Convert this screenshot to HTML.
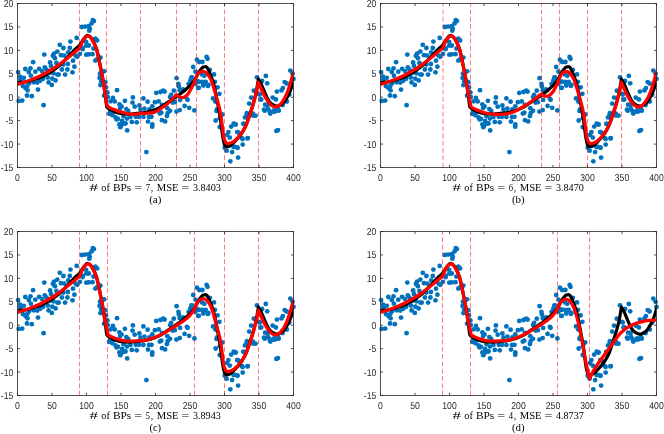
<!DOCTYPE html><html><head><meta charset="utf-8"><style>html,body{margin:0;padding:0;background:#fff;width:664px;height:434px;overflow:hidden}svg{display:block}</style></head><body><svg width="664" height="434" viewBox="0 0 664 434">
<rect width="664" height="434" fill="#fff"/>
<defs><g id="d" fill="#0072bd"><circle cx="27" cy="95.5" r="2.4"/><circle cx="31.8" cy="96.2" r="2.4"/><circle cx="18.7" cy="100.9" r="2.4"/><circle cx="22.2" cy="100.6" r="2.4"/><circle cx="43.6" cy="105.2" r="2.4"/><circle cx="81.9" cy="27" r="2.4"/><circle cx="85.1" cy="26.6" r="2.4"/><circle cx="88.8" cy="26.1" r="2.4"/><circle cx="91.6" cy="23.4" r="2.4"/><circle cx="93.9" cy="21.1" r="2.4"/><circle cx="89.3" cy="30.7" r="2.4"/><circle cx="89.7" cy="28.4" r="2.4"/><circle cx="97.1" cy="40.4" r="2.4"/><circle cx="95.3" cy="38.6" r="2.4"/><circle cx="86.1" cy="41.8" r="2.4"/><circle cx="82.8" cy="47.8" r="2.4"/><circle cx="92.8" cy="20.1" r="2.4"/><circle cx="82.6" cy="49.2" r="2.4"/><circle cx="86.3" cy="45.5" r="2.4"/><circle cx="86.3" cy="54.7" r="2.4"/><circle cx="73" cy="60.7" r="2.4"/><circle cx="67.9" cy="64" r="2.4"/><circle cx="74.4" cy="66.7" r="2.4"/><circle cx="61.9" cy="69.5" r="2.4"/><circle cx="67.4" cy="69.5" r="2.4"/><circle cx="72.5" cy="72.3" r="2.4"/><circle cx="58.7" cy="74.6" r="2.4"/><circle cx="65.1" cy="74.6" r="2.4"/><circle cx="107.4" cy="92.5" r="2.4"/><circle cx="104.1" cy="95.7" r="2.4"/><circle cx="107.8" cy="97.1" r="2.4"/><circle cx="112.9" cy="98" r="2.4"/><circle cx="110.6" cy="101.3" r="2.4"/><circle cx="117" cy="90.2" r="2.4"/><circle cx="110.1" cy="111.9" r="2.4"/><circle cx="112.4" cy="113.2" r="2.4"/><circle cx="112.4" cy="115.2" r="2.4"/><circle cx="115.6" cy="117.5" r="2.4"/><circle cx="116.6" cy="119.4" r="2.4"/><circle cx="120.3" cy="127.2" r="2.4"/><circle cx="127.2" cy="130.4" r="2.4"/><circle cx="114.7" cy="101.4" r="2.4"/><circle cx="109.2" cy="113.8" r="2.4"/><circle cx="156.3" cy="92.9" r="2.4"/><circle cx="160.5" cy="92" r="2.4"/><circle cx="163.2" cy="90.6" r="2.4"/><circle cx="143.4" cy="98.4" r="2.4"/><circle cx="147.6" cy="101.7" r="2.4"/><circle cx="144.4" cy="108.6" r="2.4"/><circle cx="149.4" cy="109.5" r="2.4"/><circle cx="143.4" cy="116.9" r="2.4"/><circle cx="149" cy="116.9" r="2.4"/><circle cx="148" cy="121.6" r="2.4"/><circle cx="152.2" cy="126.7" r="2.4"/><circle cx="146.4" cy="152.1" r="2.4"/><circle cx="120.7" cy="126.1" r="2.4"/><circle cx="176.6" cy="78.2" r="2.4"/><circle cx="191.8" cy="77.3" r="2.4"/><circle cx="190.4" cy="80.5" r="2.4"/><circle cx="178.4" cy="83.8" r="2.4"/><circle cx="178.9" cy="86.5" r="2.4"/><circle cx="188.6" cy="83.8" r="2.4"/><circle cx="195.5" cy="83.8" r="2.4"/><circle cx="197.8" cy="81.5" r="2.4"/><circle cx="198.2" cy="87.9" r="2.4"/><circle cx="183" cy="89.3" r="2.4"/><circle cx="179.8" cy="90.2" r="2.4"/><circle cx="173.8" cy="90.7" r="2.4"/><circle cx="164.6" cy="91.6" r="2.4"/><circle cx="171.1" cy="94.8" r="2.4"/><circle cx="206.6" cy="56.9" r="2.4"/><circle cx="207.5" cy="58.8" r="2.4"/><circle cx="196.9" cy="59.7" r="2.4"/><circle cx="199.2" cy="62" r="2.4"/><circle cx="202.4" cy="62" r="2.4"/><circle cx="193.2" cy="67" r="2.4"/><circle cx="195.5" cy="71.7" r="2.4"/><circle cx="209.8" cy="69.8" r="2.4"/><circle cx="214" cy="74.4" r="2.4"/><circle cx="202" cy="74.4" r="2.4"/><circle cx="204.3" cy="75.8" r="2.4"/><circle cx="191.4" cy="77.6" r="2.4"/><circle cx="198.8" cy="81.8" r="2.4"/><circle cx="202" cy="81.8" r="2.4"/><circle cx="205.7" cy="81.8" r="2.4"/><circle cx="203.4" cy="84.6" r="2.4"/><circle cx="208.4" cy="85" r="2.4"/><circle cx="214.9" cy="81.8" r="2.4"/><circle cx="217.6" cy="87.3" r="2.4"/><circle cx="198.8" cy="87.8" r="2.4"/><circle cx="203.3" cy="85.5" r="2.4"/><circle cx="207.9" cy="85.9" r="2.4"/><circle cx="219.4" cy="93.8" r="2.4"/><circle cx="213" cy="98.4" r="2.4"/><circle cx="215.3" cy="101.6" r="2.4"/><circle cx="217.1" cy="109.4" r="2.4"/><circle cx="222.2" cy="114.5" r="2.4"/><circle cx="215.7" cy="120.5" r="2.4"/><circle cx="219.9" cy="118.2" r="2.4"/><circle cx="233.7" cy="123.7" r="2.4"/><circle cx="219.7" cy="127.1" r="2.4"/><circle cx="231.2" cy="126.6" r="2.4"/><circle cx="234.9" cy="124.3" r="2.4"/><circle cx="228.4" cy="132.1" r="2.4"/><circle cx="227.1" cy="134.9" r="2.4"/><circle cx="229.8" cy="137.6" r="2.4"/><circle cx="237.2" cy="132.1" r="2.4"/><circle cx="239.5" cy="133.5" r="2.4"/><circle cx="241.8" cy="138.1" r="2.4"/><circle cx="242.7" cy="144.6" r="2.4"/><circle cx="247.8" cy="138.1" r="2.4"/><circle cx="245" cy="117.4" r="2.4"/><circle cx="246.9" cy="114.6" r="2.4"/><circle cx="243.2" cy="123.8" r="2.4"/><circle cx="224.7" cy="147.8" r="2.4"/><circle cx="234.9" cy="146.9" r="2.4"/><circle cx="237.6" cy="147.8" r="2.4"/><circle cx="216.5" cy="110.9" r="2.4"/><circle cx="233.5" cy="147" r="2.4"/><circle cx="226.6" cy="150.7" r="2.4"/><circle cx="232.1" cy="152.1" r="2.4"/><circle cx="238.1" cy="157.6" r="2.4"/><circle cx="230.3" cy="161.3" r="2.4"/><circle cx="257" cy="77.3" r="2.4"/><circle cx="265.8" cy="75.9" r="2.4"/><circle cx="262.1" cy="81" r="2.4"/><circle cx="267.2" cy="83.3" r="2.4"/><circle cx="276.9" cy="91.6" r="2.4"/><circle cx="253.8" cy="90.7" r="2.4"/><circle cx="258.9" cy="93.9" r="2.4"/><circle cx="261.2" cy="99.4" r="2.4"/><circle cx="251.1" cy="97.6" r="2.4"/><circle cx="249.2" cy="103.6" r="2.4"/><circle cx="272.7" cy="97.6" r="2.4"/><circle cx="275.9" cy="99.4" r="2.4"/><circle cx="267.6" cy="105" r="2.4"/><circle cx="264" cy="109.6" r="2.4"/><circle cx="269.5" cy="111" r="2.4"/><circle cx="274.1" cy="110.5" r="2.4"/><circle cx="277.8" cy="109.1" r="2.4"/><circle cx="252.9" cy="113.7" r="2.4"/><circle cx="246.9" cy="113.2" r="2.4"/><circle cx="290.3" cy="70.6" r="2.4"/><circle cx="293.5" cy="78.9" r="2.4"/><circle cx="292.6" cy="73.8" r="2.4"/><circle cx="284.7" cy="82.1" r="2.4"/><circle cx="286.6" cy="83.5" r="2.4"/><circle cx="282.9" cy="88.1" r="2.4"/><circle cx="281.5" cy="90.4" r="2.4"/><circle cx="289.3" cy="94.6" r="2.4"/><circle cx="259.8" cy="94.6" r="2.4"/><circle cx="260.5" cy="99.6" r="2.4"/><circle cx="265.1" cy="104.7" r="2.4"/><circle cx="267.9" cy="108.8" r="2.4"/><circle cx="270.2" cy="113" r="2.4"/><circle cx="273.9" cy="111.6" r="2.4"/><circle cx="278.5" cy="110.2" r="2.4"/><circle cx="282.6" cy="105.1" r="2.4"/><circle cx="286.8" cy="101.5" r="2.4"/><circle cx="255.5" cy="115.7" r="2.4"/><circle cx="253" cy="115.5" r="2.4"/><circle cx="244" cy="123.8" r="2.4"/><circle cx="235.7" cy="124.5" r="2.4"/><circle cx="237.8" cy="132.1" r="2.4"/><circle cx="242.6" cy="139" r="2.4"/><circle cx="247.4" cy="138.4" r="2.4"/><circle cx="237.1" cy="147.3" r="2.4"/><circle cx="264.7" cy="110.7" r="2.4"/><circle cx="270.3" cy="113.5" r="2.4"/><circle cx="275.1" cy="111.4" r="2.4"/><circle cx="278.6" cy="110.7" r="2.4"/><circle cx="18.1" cy="72.1" r="2.4"/><circle cx="25.3" cy="69" r="2.4"/><circle cx="30.5" cy="68.3" r="2.4"/><circle cx="28.8" cy="72" r="2.4"/><circle cx="30.9" cy="75.7" r="2.4"/><circle cx="20.1" cy="76.6" r="2.4"/><circle cx="23.8" cy="77.8" r="2.4"/><circle cx="20.3" cy="79.6" r="2.4"/><circle cx="35.3" cy="71.7" r="2.4"/><circle cx="22.9" cy="86.1" r="2.4"/><circle cx="27.3" cy="86.1" r="2.4"/><circle cx="25.5" cy="88" r="2.4"/><circle cx="27.6" cy="90.3" r="2.4"/><circle cx="29.1" cy="83.3" r="2.4"/><circle cx="33.8" cy="82.3" r="2.4"/><circle cx="33.1" cy="62.2" r="2.4"/><circle cx="39.1" cy="68.8" r="2.4"/><circle cx="44.8" cy="67.3" r="2.4"/><circle cx="46.5" cy="69.6" r="2.4"/><circle cx="42" cy="71.1" r="2.4"/><circle cx="40.2" cy="80.8" r="2.4"/><circle cx="37.3" cy="82.5" r="2.4"/><circle cx="48.6" cy="82.4" r="2.4"/><circle cx="51.8" cy="84.9" r="2.4"/><circle cx="47.8" cy="77.5" r="2.4"/><circle cx="50.2" cy="72.4" r="2.4"/><circle cx="53.5" cy="73.3" r="2.4"/><circle cx="52.3" cy="78.7" r="2.4"/><circle cx="50.1" cy="62.4" r="2.4"/><circle cx="38" cy="89.6" r="2.4"/><circle cx="43.1" cy="78.8" r="2.4"/><circle cx="55.6" cy="80.4" r="2.4"/><circle cx="57.3" cy="74.6" r="2.4"/><circle cx="56.4" cy="63" r="2.4"/><circle cx="51" cy="65.9" r="2.4"/><circle cx="44.3" cy="54.6" r="2.4"/><circle cx="276.4" cy="130.9" r="2.4"/><circle cx="278" cy="130.1" r="2.4"/><circle cx="88.8" cy="45.5" r="2.4"/><circle cx="88.9" cy="54.3" r="2.4"/><circle cx="92.5" cy="54.2" r="2.4"/><circle cx="93.4" cy="48.6" r="2.4"/><circle cx="95.3" cy="60.6" r="2.4"/><circle cx="97.2" cy="59.2" r="2.4"/><circle cx="100.4" cy="57.6" r="2.4"/><circle cx="104.1" cy="71.3" r="2.4"/><circle cx="100" cy="73.7" r="2.4"/><circle cx="99.6" cy="77.9" r="2.4"/><circle cx="101.2" cy="81.2" r="2.4"/><circle cx="105.4" cy="82.1" r="2.4"/><circle cx="100.4" cy="85.1" r="2.4"/><circle cx="106" cy="87.4" r="2.4"/><circle cx="124.9" cy="100.8" r="2.4"/><circle cx="132.9" cy="97.4" r="2.4"/><circle cx="132.5" cy="102.6" r="2.4"/><circle cx="134.7" cy="106.7" r="2.4"/><circle cx="119.4" cy="104.3" r="2.4"/><circle cx="121.5" cy="106.4" r="2.4"/><circle cx="120.1" cy="108.1" r="2.4"/><circle cx="126.3" cy="109.1" r="2.4"/><circle cx="128.2" cy="110.9" r="2.4"/><circle cx="139.4" cy="105.5" r="2.4"/><circle cx="140.5" cy="109.6" r="2.4"/><circle cx="118" cy="118.8" r="2.4"/><circle cx="122.1" cy="120.9" r="2.4"/><circle cx="124.9" cy="123.3" r="2.4"/><circle cx="127" cy="118.6" r="2.4"/><circle cx="131.8" cy="121.9" r="2.4"/><circle cx="136.7" cy="122.3" r="2.4"/><circle cx="135.8" cy="116.8" r="2.4"/><circle cx="139" cy="116.8" r="2.4"/><circle cx="119.4" cy="124.4" r="2.4"/><circle cx="130.4" cy="116.9" r="2.4"/><circle cx="123.5" cy="116.2" r="2.4"/><circle cx="122.6" cy="124" r="2.4"/><circle cx="125.5" cy="123.4" r="2.4"/><circle cx="152.3" cy="106.3" r="2.4"/><circle cx="154.9" cy="102.2" r="2.4"/><circle cx="158.7" cy="101.4" r="2.4"/><circle cx="162" cy="104.8" r="2.4"/><circle cx="167.3" cy="108.2" r="2.4"/><circle cx="170" cy="110.8" r="2.4"/><circle cx="167.7" cy="113.1" r="2.4"/><circle cx="166.9" cy="116.1" r="2.4"/><circle cx="161.3" cy="112.7" r="2.4"/><circle cx="159.8" cy="113.6" r="2.4"/><circle cx="162" cy="120.2" r="2.4"/><circle cx="165.1" cy="121.4" r="2.4"/><circle cx="172.6" cy="102.5" r="2.4"/><circle cx="174.8" cy="102.2" r="2.4"/><circle cx="170.1" cy="97.1" r="2.4"/><circle cx="180.1" cy="99.9" r="2.4"/><circle cx="186.9" cy="98.8" r="2.4"/><circle cx="187.6" cy="99.8" r="2.4"/><circle cx="176.4" cy="111.6" r="2.4"/><circle cx="179.7" cy="110.1" r="2.4"/><circle cx="184.6" cy="105.9" r="2.4"/><circle cx="189.2" cy="107.8" r="2.4"/><circle cx="194.4" cy="110.4" r="2.4"/><circle cx="151.5" cy="116.8" r="2.4"/><circle cx="152.3" cy="124.4" r="2.4"/><circle cx="76.7" cy="37.9" r="2.4"/><circle cx="70.4" cy="41.6" r="2.4"/><circle cx="59.8" cy="44.8" r="2.4"/><circle cx="63.4" cy="48" r="2.4"/><circle cx="69.8" cy="48" r="2.4"/><circle cx="57.3" cy="51.6" r="2.4"/><circle cx="54.1" cy="53.6" r="2.4"/><circle cx="52.9" cy="55.8" r="2.4"/><circle cx="54.9" cy="58.2" r="2.4"/><circle cx="61" cy="55.2" r="2.4"/><circle cx="64.2" cy="55.6" r="2.4"/><circle cx="68.2" cy="52.4" r="2.4"/><circle cx="75.5" cy="55.6" r="2.4"/><circle cx="77.1" cy="56.8" r="2.4"/><circle cx="79.9" cy="53.8" r="2.4"/><circle cx="63.4" cy="64.6" r="2.4"/></g><clipPath id="cp"><rect x="17.5" y="0.5" width="276" height="170"/></clipPath></defs>
<g transform="translate(0 0)">
<use href="#d"/>
<line x1="79.5" y1="167.5" x2="79.5" y2="3.5" stroke="#ff0000" stroke-opacity="0.5" stroke-width="1" stroke-dasharray="4.8 2.5"/>
<line x1="106.5" y1="167.5" x2="106.5" y2="3.5" stroke="#ff0000" stroke-opacity="0.5" stroke-width="1" stroke-dasharray="4.8 2.5"/>
<line x1="140.5" y1="167.5" x2="140.5" y2="3.5" stroke="#ff0000" stroke-opacity="0.5" stroke-width="1" stroke-dasharray="4.8 2.5"/>
<line x1="176.5" y1="167.5" x2="176.5" y2="3.5" stroke="#ff0000" stroke-opacity="0.5" stroke-width="1" stroke-dasharray="4.8 2.5"/>
<line x1="196.5" y1="167.5" x2="196.5" y2="3.5" stroke="#ff0000" stroke-opacity="0.5" stroke-width="1" stroke-dasharray="4.8 2.5"/>
<line x1="224.5" y1="167.5" x2="224.5" y2="3.5" stroke="#ff0000" stroke-opacity="0.5" stroke-width="1" stroke-dasharray="4.8 2.5"/>
<line x1="258.5" y1="167.5" x2="258.5" y2="3.5" stroke="#ff0000" stroke-opacity="0.5" stroke-width="1" stroke-dasharray="4.8 2.5"/>
<g clip-path="url(#cp)">
<path d="M17.5 82.7 C18.25 82.62 20.58 82.37 22 82.2 C23.42 82.03 24.67 81.95 26 81.7 C27.33 81.45 28.33 81.18 30 80.7 C31.67 80.22 34.33 79.33 36 78.8 C37.67 78.27 38.67 78.02 40 77.5 C41.33 76.98 42.33 76.55 44 75.7 C45.67 74.85 48.17 73.52 50 72.4 C51.83 71.28 53.33 70.23 55 69 C56.67 67.77 58.5 66.32 60 65 C61.5 63.68 62.67 62.45 64 61.1 C65.33 59.75 66.67 58.32 68 56.9 C69.33 55.48 70.67 54 72 52.6 C73.33 51.2 74.77 49.7 76 48.5 C77.23 47.3 78.23 46.82 79.4 45.4 C80.57 43.98 81.9 41.52 83 40 C84.1 38.48 85.15 37.05 86 36.3 C86.85 35.55 87.35 35.38 88.1 35.5 C88.85 35.62 89.63 36 90.5 37 C91.37 38 92.27 39.42 93.3 41.5 C94.33 43.58 95.58 45.67 96.7 49.5 C97.82 53.33 98.95 59.42 100 64.5 C101.05 69.58 102.15 75.08 103 80 C103.85 84.92 104.55 90.08 105.1 94 C105.65 97.92 106.02 101.37 106.3 103.5 C106.58 105.63 106.72 106.25 106.8 106.8 L106.8 106.8 C107.17 107.17 107.97 108.28 109 109 C110.03 109.72 111.32 110.38 113 111.1 C114.68 111.82 117.08 112.82 119.1 113.3 C121.12 113.78 123.1 113.88 125.1 114 C127.1 114.12 129.1 114.1 131.1 114 C133.1 113.9 134.75 113.67 137.1 113.4 C139.45 113.13 143.38 112.68 145.2 112.4 C147.02 112.12 146.62 112.05 148 111.7 C149.38 111.35 151.65 110.93 153.5 110.3 C155.35 109.67 157.25 108.87 159.1 107.9 C160.95 106.93 162.58 105.82 164.6 104.5 C166.62 103.18 169.3 101.27 171.2 100 C173.1 98.73 174.53 97.9 176 96.9 C177.47 95.9 178.82 94.85 180 94 C181.18 93.15 182.1 92.58 183.1 91.8 C184.1 91.02 185 90.2 186 89.3 C187 88.4 188.1 87.35 189.1 86.4 C190.1 85.45 191.12 84.62 192 83.6 C192.88 82.58 193.65 81.47 194.4 80.3 C195.15 79.13 195.87 77.77 196.5 76.6 C197.13 75.43 197.62 74.33 198.2 73.3 C198.78 72.27 199.42 71.23 200 70.4 C200.58 69.57 201.12 68.85 201.7 68.3 C202.28 67.75 202.78 67.37 203.5 67.1 C204.22 66.83 205.25 66.4 206 66.7 C206.75 67 207.2 67.43 208 68.9 C208.8 70.37 209.97 73.35 210.8 75.5 C211.63 77.65 212.35 79.68 213 81.8 C213.65 83.92 214.12 85.58 214.7 88.2 C215.28 90.82 215.87 94.2 216.5 97.5 C217.13 100.8 217.85 104.42 218.5 108 C219.15 111.58 219.85 115.33 220.4 119 C220.95 122.67 221.37 126.75 221.8 130 C222.23 133.25 222.52 135.95 223 138.5 C223.48 141.05 224.07 143.95 224.7 145.3 C225.33 146.65 226 146.45 226.8 146.6 C227.6 146.75 228.33 146.87 229.5 146.2 C230.67 145.53 232.47 143.87 233.8 142.6 C235.13 141.33 236.33 139.93 237.5 138.6 C238.67 137.27 239.8 136 240.8 134.6 C241.8 133.2 242.58 131.87 243.5 130.2 C244.42 128.53 245.15 127.55 246.3 124.6 C247.45 121.65 249.18 116.2 250.4 112.5 C251.62 108.8 252.63 105.82 253.6 102.4 C254.57 98.98 255.4 95.87 256.2 92 C257 88.13 258.03 81.33 258.4 79.2 L258.4 79.2 C258.87 80 260.15 81.82 261.2 84 C262.25 86.18 263.43 89.5 264.7 92.3 C265.97 95.1 267.42 98.7 268.8 100.8 C270.18 102.9 271.62 104 273 104.9 C274.38 105.8 275.93 106.15 277.1 106.2 C278.27 106.25 278.88 105.85 280 105.2 C281.12 104.55 282.8 103.32 283.8 102.3 C284.8 101.28 285.23 100.32 286 99.1 C286.77 97.88 287.52 96.8 288.4 95 C289.28 93.2 290.4 90.87 291.3 88.3 C292.2 85.73 293.38 81.05 293.8 79.6" fill="none" stroke="#000" stroke-width="3.2" stroke-linejoin="round" stroke-linecap="round"/>
<path d="M17.5 84.3 C18.75 83.92 22.5 82.85 25 82 C27.5 81.15 30 80.22 32.5 79.2 C35 78.18 37.5 77.1 40 75.9 C42.5 74.7 45 73.4 47.5 72 C50 70.6 52.5 69.15 55 67.5 C57.5 65.85 60 64 62.5 62.1 C65 60.2 67.92 57.8 70 56.1 C72.08 54.4 73.4 53.22 75 51.9 C76.6 50.58 78.83 48.82 79.6 48.2 L79.6 48.2 C80.15 46.93 81.88 42.47 82.9 40.6 C83.92 38.73 84.83 37.78 85.7 37 C86.57 36.22 87.3 35.85 88.1 35.9 C88.9 35.95 89.63 36.33 90.5 37.3 C91.37 38.27 92.27 39.58 93.3 41.7 C94.33 43.82 95.58 46.12 96.7 50 C97.82 53.88 98.95 60 100 65 C101.05 70 102.15 75.25 103 80 C103.85 84.75 104.53 89.58 105.1 93.5 C105.67 97.42 106.18 101.83 106.4 103.5 L106.4 103 C106.6 103.5 107 105.18 107.6 106 C108.2 106.82 109.1 107.38 110 107.9 C110.9 108.42 111.83 108.65 113 109.1 C114.17 109.55 115.67 110.13 117 110.6 C118.33 111.07 119.67 111.5 121 111.9 C122.33 112.3 123.67 112.67 125 113 C126.33 113.33 127.83 113.67 129 113.9 C130.17 114.13 131 114.33 132 114.4 C133 114.47 134 114.4 135 114.3 C136 114.2 137.12 113.97 138 113.8 C138.88 113.63 139.92 113.38 140.3 113.3 L140.3 113.3 C140.92 113.32 142.72 113.42 144 113.4 C145.28 113.38 146.33 113.37 148 113.2 C149.67 113.03 152.33 112.87 154 112.4 C155.67 111.93 156.67 111.18 158 110.4 C159.33 109.62 160.67 108.62 162 107.7 C163.33 106.78 164.6 106 166 104.9 C167.4 103.8 169.15 102.25 170.4 101.1 C171.65 99.95 172.55 99.05 173.5 98 C174.45 96.95 175.67 95.33 176.1 94.8 L176.1 94.8 C176.53 95.07 177.75 95.93 178.7 96.4 C179.65 96.87 180.77 97.53 181.8 97.6 C182.83 97.67 183.87 97.4 184.9 96.8 C185.93 96.2 186.97 95.35 188 94 C189.03 92.65 190.07 90.63 191.1 88.7 C192.13 86.77 193.32 84.43 194.2 82.4 C195.08 80.37 196.03 77.48 196.4 76.5 L196.4 76.5 C196.75 75.95 197.7 74.02 198.5 73.2 C199.3 72.38 200.28 71.87 201.2 71.6 C202.12 71.33 203.2 71.47 204 71.6 C204.8 71.73 205.4 71.97 206 72.4 C206.6 72.83 206.87 73.2 207.6 74.2 C208.33 75.2 209.48 76.47 210.4 78.4 C211.32 80.33 212.12 82.77 213.1 85.8 C214.08 88.83 215.15 92.43 216.3 96.6 C217.45 100.77 219.03 106.13 220 110.8 C220.97 115.47 221.52 120.45 222.1 124.6 C222.68 128.75 223.12 133.22 223.5 135.7 C223.88 138.18 224.25 138.87 224.4 139.5 L224.4 139.5 C224.67 140.02 225.35 141.92 226 142.6 C226.65 143.28 227 143.8 228.3 143.6 C229.6 143.4 231.72 142.95 233.8 141.4 C235.88 139.85 238.72 137.1 240.8 134.3 C242.88 131.5 244.43 128.9 246.3 124.6 C248.17 120.3 250.63 112.68 252 108.5 C253.37 104.32 253.7 102.67 254.5 99.5 C255.3 96.33 256.15 92.37 256.8 89.5 C257.45 86.63 258.13 83.5 258.4 82.3 L258.4 82.3 C258.78 83.22 259.62 85.45 260.7 87.8 C261.78 90.15 263.52 93.9 264.9 96.4 C266.28 98.9 267.77 101.2 269 102.8 C270.23 104.4 271.3 105.33 272.3 106 C273.3 106.67 274.15 106.73 275 106.8 C275.85 106.87 276.57 106.75 277.4 106.4 C278.23 106.05 279.12 105.53 280 104.7 C280.88 103.87 281.87 102.6 282.7 101.4 C283.53 100.2 284.23 99.02 285 97.5 C285.77 95.98 286.6 94.08 287.3 92.3 C288 90.52 288.63 88.52 289.2 86.8 C289.77 85.08 290.23 83.55 290.7 82 C291.17 80.45 291.52 79.17 292 77.5 C292.48 75.83 293.33 72.92 293.6 72" fill="none" stroke="#ff0000" stroke-width="3.3" stroke-linejoin="round" stroke-linecap="round"/>
</g>
<rect x="17.5" y="3.5" width="276" height="164" fill="none" stroke="#262626" stroke-width="0.8"/>
<path d="M17.5 167.5v-2.6M17.5 3.5v2.6M52 167.5v-2.6M52 3.5v2.6M86.5 167.5v-2.6M86.5 3.5v2.6M121 167.5v-2.6M121 3.5v2.6M155.5 167.5v-2.6M155.5 3.5v2.6M190 167.5v-2.6M190 3.5v2.6M224.5 167.5v-2.6M224.5 3.5v2.6M259 167.5v-2.6M259 3.5v2.6M293.5 167.5v-2.6M293.5 3.5v2.6M17.5 167.5h2.6M293.5 167.5h-2.6M17.5 144.07h2.6M293.5 144.07h-2.6M17.5 120.64h2.6M293.5 120.64h-2.6M17.5 97.21h2.6M293.5 97.21h-2.6M17.5 73.79h2.6M293.5 73.79h-2.6M17.5 50.36h2.6M293.5 50.36h-2.6M17.5 26.93h2.6M293.5 26.93h-2.6M17.5 3.5h2.6M293.5 3.5h-2.6" stroke="#262626" stroke-width="0.8" fill="none"/>
<g font-family="Liberation Sans, Arial, sans-serif" font-size="10" fill="#262626" style="text-rendering:geometricPrecision">
<text transform="translate(17.5 180.8) scale(0.86 1)" text-anchor="middle">0</text>
<text transform="translate(52 180.8) scale(0.86 1)" text-anchor="middle">50</text>
<text transform="translate(86.5 180.8) scale(0.86 1)" text-anchor="middle">100</text>
<text transform="translate(121 180.8) scale(0.86 1)" text-anchor="middle">150</text>
<text transform="translate(155.5 180.8) scale(0.86 1)" text-anchor="middle">200</text>
<text transform="translate(190 180.8) scale(0.86 1)" text-anchor="middle">250</text>
<text transform="translate(224.5 180.8) scale(0.86 1)" text-anchor="middle">300</text>
<text transform="translate(259 180.8) scale(0.86 1)" text-anchor="middle">350</text>
<text transform="translate(293.5 180.8) scale(0.86 1)" text-anchor="middle">400</text>
<text transform="translate(13.2 171) scale(0.86 1)" text-anchor="end">-15</text>
<text transform="translate(13.2 147.57) scale(0.86 1)" text-anchor="end">-10</text>
<text transform="translate(13.2 124.14) scale(0.86 1)" text-anchor="end">-5</text>
<text transform="translate(13.2 100.71) scale(0.86 1)" text-anchor="end">0</text>
<text transform="translate(13.2 77.29) scale(0.86 1)" text-anchor="end">5</text>
<text transform="translate(13.2 53.86) scale(0.86 1)" text-anchor="end">10</text>
<text transform="translate(13.2 30.43) scale(0.86 1)" text-anchor="end">15</text>
<text transform="translate(13.2 7) scale(0.86 1)" text-anchor="end">20</text>
</g>
<g font-family="Liberation Serif, serif" font-size="9.8" fill="#000" text-anchor="middle">
<text x="93.85" y="191" textLength="8.5" lengthAdjust="spacingAndGlyphs">#</text>
<text x="105.55" y="191" textLength="8.5" lengthAdjust="spacingAndGlyphs">of</text>
<text x="122.05" y="191" textLength="18.3" lengthAdjust="spacingAndGlyphs">BPs</text>
<text x="138.15" y="191" textLength="7.9" lengthAdjust="spacingAndGlyphs">=</text>
<text x="147.95" y="191" textLength="4.3" lengthAdjust="spacingAndGlyphs">7</text>
<text x="151.9" y="191" textLength="2.4" lengthAdjust="spacingAndGlyphs">,</text>
<text x="167.65" y="191" textLength="21.9" lengthAdjust="spacingAndGlyphs">MSE</text>
<text x="185.55" y="191" textLength="7.9" lengthAdjust="spacingAndGlyphs">=</text>
<text x="206.85" y="191" textLength="27.9" lengthAdjust="spacingAndGlyphs">3.8403</text>
<text x="155.3" y="203.4" textLength="12.2" lengthAdjust="spacingAndGlyphs">(a)</text>
</g>
</g>
<g transform="translate(363 0)">
<use href="#d"/>
<line x1="80" y1="167.5" x2="80" y2="3.5" stroke="#ff0000" stroke-opacity="0.5" stroke-width="1" stroke-dasharray="4.8 2.5"/>
<line x1="107.5" y1="167.5" x2="107.5" y2="3.5" stroke="#ff0000" stroke-opacity="0.5" stroke-width="1" stroke-dasharray="4.8 2.5"/>
<line x1="178.5" y1="167.5" x2="178.5" y2="3.5" stroke="#ff0000" stroke-opacity="0.5" stroke-width="1" stroke-dasharray="4.8 2.5"/>
<line x1="196.5" y1="167.5" x2="196.5" y2="3.5" stroke="#ff0000" stroke-opacity="0.5" stroke-width="1" stroke-dasharray="4.8 2.5"/>
<line x1="224.5" y1="167.5" x2="224.5" y2="3.5" stroke="#ff0000" stroke-opacity="0.5" stroke-width="1" stroke-dasharray="4.8 2.5"/>
<line x1="258.5" y1="167.5" x2="258.5" y2="3.5" stroke="#ff0000" stroke-opacity="0.5" stroke-width="1" stroke-dasharray="4.8 2.5"/>
<g clip-path="url(#cp)">
<path d="M17.5 82.7 C18.25 82.62 20.58 82.37 22 82.2 C23.42 82.03 24.67 81.95 26 81.7 C27.33 81.45 28.33 81.18 30 80.7 C31.67 80.22 34.33 79.33 36 78.8 C37.67 78.27 38.67 78.02 40 77.5 C41.33 76.98 42.33 76.55 44 75.7 C45.67 74.85 48.17 73.52 50 72.4 C51.83 71.28 53.33 70.23 55 69 C56.67 67.77 58.5 66.32 60 65 C61.5 63.68 62.67 62.45 64 61.1 C65.33 59.75 66.67 58.32 68 56.9 C69.33 55.48 70.67 54 72 52.6 C73.33 51.2 74.77 49.7 76 48.5 C77.23 47.3 78.23 46.82 79.4 45.4 C80.57 43.98 81.9 41.52 83 40 C84.1 38.48 85.15 37.05 86 36.3 C86.85 35.55 87.35 35.38 88.1 35.5 C88.85 35.62 89.63 36 90.5 37 C91.37 38 92.27 39.42 93.3 41.5 C94.33 43.58 95.58 45.67 96.7 49.5 C97.82 53.33 98.95 59.42 100 64.5 C101.05 69.58 102.15 75.08 103 80 C103.85 84.92 104.55 90.08 105.1 94 C105.65 97.92 106.02 101.37 106.3 103.5 C106.58 105.63 106.72 106.25 106.8 106.8 L106.8 106.8 C107.17 107.17 107.97 108.28 109 109 C110.03 109.72 111.32 110.38 113 111.1 C114.68 111.82 117.08 112.82 119.1 113.3 C121.12 113.78 123.1 113.88 125.1 114 C127.1 114.12 129.1 114.1 131.1 114 C133.1 113.9 134.75 113.67 137.1 113.4 C139.45 113.13 143.38 112.68 145.2 112.4 C147.02 112.12 146.62 112.05 148 111.7 C149.38 111.35 151.65 110.93 153.5 110.3 C155.35 109.67 157.25 108.87 159.1 107.9 C160.95 106.93 162.58 105.82 164.6 104.5 C166.62 103.18 169.3 101.27 171.2 100 C173.1 98.73 174.53 97.9 176 96.9 C177.47 95.9 178.82 94.85 180 94 C181.18 93.15 182.1 92.58 183.1 91.8 C184.1 91.02 185 90.2 186 89.3 C187 88.4 188.1 87.35 189.1 86.4 C190.1 85.45 191.12 84.62 192 83.6 C192.88 82.58 193.65 81.47 194.4 80.3 C195.15 79.13 195.87 77.77 196.5 76.6 C197.13 75.43 197.62 74.33 198.2 73.3 C198.78 72.27 199.42 71.23 200 70.4 C200.58 69.57 201.12 68.85 201.7 68.3 C202.28 67.75 202.78 67.37 203.5 67.1 C204.22 66.83 205.25 66.4 206 66.7 C206.75 67 207.2 67.43 208 68.9 C208.8 70.37 209.97 73.35 210.8 75.5 C211.63 77.65 212.35 79.68 213 81.8 C213.65 83.92 214.12 85.58 214.7 88.2 C215.28 90.82 215.87 94.2 216.5 97.5 C217.13 100.8 217.85 104.42 218.5 108 C219.15 111.58 219.85 115.33 220.4 119 C220.95 122.67 221.37 126.75 221.8 130 C222.23 133.25 222.52 135.95 223 138.5 C223.48 141.05 224.07 143.95 224.7 145.3 C225.33 146.65 226 146.45 226.8 146.6 C227.6 146.75 228.33 146.87 229.5 146.2 C230.67 145.53 232.47 143.87 233.8 142.6 C235.13 141.33 236.33 139.93 237.5 138.6 C238.67 137.27 239.8 136 240.8 134.6 C241.8 133.2 242.58 131.87 243.5 130.2 C244.42 128.53 245.15 127.55 246.3 124.6 C247.45 121.65 249.18 116.2 250.4 112.5 C251.62 108.8 252.63 105.82 253.6 102.4 C254.57 98.98 255.4 95.87 256.2 92 C257 88.13 258.03 81.33 258.4 79.2 L258.4 79.2 C258.87 80 260.15 81.82 261.2 84 C262.25 86.18 263.43 89.5 264.7 92.3 C265.97 95.1 267.42 98.7 268.8 100.8 C270.18 102.9 271.62 104 273 104.9 C274.38 105.8 275.93 106.15 277.1 106.2 C278.27 106.25 278.88 105.85 280 105.2 C281.12 104.55 282.8 103.32 283.8 102.3 C284.8 101.28 285.23 100.32 286 99.1 C286.77 97.88 287.52 96.8 288.4 95 C289.28 93.2 290.4 90.87 291.3 88.3 C292.2 85.73 293.38 81.05 293.8 79.6" fill="none" stroke="#000" stroke-width="3.2" stroke-linejoin="round" stroke-linecap="round"/>
<path d="M17.5 84.3 C18.75 83.92 22.5 82.85 25 82 C27.5 81.15 30 80.22 32.5 79.2 C35 78.18 37.5 77.1 40 75.9 C42.5 74.7 45 73.4 47.5 72 C50 70.6 52.5 69.15 55 67.5 C57.5 65.85 60 64 62.5 62.1 C65 60.2 67.92 57.8 70 56.1 C72.08 54.4 73.4 53.22 75 51.9 C76.6 50.58 78.83 48.82 79.6 48.2 L79.6 48.2 C80.15 46.93 81.88 42.47 82.9 40.6 C83.92 38.73 84.83 37.78 85.7 37 C86.57 36.22 87.3 35.85 88.1 35.9 C88.9 35.95 89.63 36.33 90.5 37.3 C91.37 38.27 92.27 39.58 93.3 41.7 C94.33 43.82 95.58 46.12 96.7 50 C97.82 53.88 98.95 60 100 65 C101.05 70 102.15 75.25 103 80 C103.85 84.75 104.37 89.58 105.1 93.5 C105.83 97.42 107.02 101.83 107.4 103.5 L107.4 104.5 C107.58 104.95 107.57 106.35 108.5 107.2 C109.43 108.05 111.23 108.8 113 109.6 C114.77 110.4 117.08 111.35 119.1 112 C121.12 112.65 123.1 113.1 125.1 113.5 C127.1 113.9 129.1 114.25 131.1 114.4 C133.1 114.55 134.95 114.5 137.1 114.4 C139.25 114.3 142.18 114.07 144 113.8 C145.82 113.53 146.42 113.37 148 112.8 C149.58 112.23 151.65 111.28 153.5 110.4 C155.35 109.52 157.25 108.53 159.1 107.5 C160.95 106.47 162.77 105.4 164.6 104.2 C166.43 103 168.25 101.68 170.1 100.3 C171.95 98.92 174.35 96.92 175.7 95.9 C177.05 94.88 177.78 94.48 178.2 94.2 L178.5 94 C178.83 94.3 179.73 95.42 180.5 95.8 C181.27 96.18 182.27 96.3 183.1 96.3 C183.93 96.3 184.82 96.05 185.5 95.8 C186.18 95.55 186.38 95.57 187.2 94.8 C188.02 94.03 189.47 92.57 190.4 91.2 C191.33 89.83 192 88.3 192.8 86.6 C193.6 84.9 194.58 82.4 195.2 81 C195.82 79.6 196.28 78.67 196.5 78.2 L196.5 78.2 C196.68 77.8 197.15 76.6 197.6 75.8 C198.05 75 198.6 74.05 199.2 73.4 C199.8 72.75 200.4 72.2 201.2 71.9 C202 71.6 203.2 71.52 204 71.6 C204.8 71.68 205.4 71.97 206 72.4 C206.6 72.83 206.87 73.2 207.6 74.2 C208.33 75.2 209.48 76.47 210.4 78.4 C211.32 80.33 212.12 82.77 213.1 85.8 C214.08 88.83 215.15 92.43 216.3 96.6 C217.45 100.77 219.03 106.13 220 110.8 C220.97 115.47 221.52 120.45 222.1 124.6 C222.68 128.75 223.12 133.22 223.5 135.7 C223.88 138.18 224.25 138.87 224.4 139.5 L224.4 139.5 C224.67 140.02 225.35 141.92 226 142.6 C226.65 143.28 227 143.8 228.3 143.6 C229.6 143.4 231.72 142.95 233.8 141.4 C235.88 139.85 238.72 137.1 240.8 134.3 C242.88 131.5 244.43 128.9 246.3 124.6 C248.17 120.3 250.63 112.68 252 108.5 C253.37 104.32 253.7 102.67 254.5 99.5 C255.3 96.33 256.15 92.37 256.8 89.5 C257.45 86.63 258.13 83.5 258.4 82.3 L258.4 82.3 C258.78 83.22 259.62 85.45 260.7 87.8 C261.78 90.15 263.52 93.9 264.9 96.4 C266.28 98.9 267.77 101.2 269 102.8 C270.23 104.4 271.3 105.33 272.3 106 C273.3 106.67 274.15 106.73 275 106.8 C275.85 106.87 276.57 106.75 277.4 106.4 C278.23 106.05 279.12 105.53 280 104.7 C280.88 103.87 281.87 102.6 282.7 101.4 C283.53 100.2 284.23 99.02 285 97.5 C285.77 95.98 286.6 94.08 287.3 92.3 C288 90.52 288.63 88.52 289.2 86.8 C289.77 85.08 290.23 83.55 290.7 82 C291.17 80.45 291.52 79.17 292 77.5 C292.48 75.83 293.33 72.92 293.6 72" fill="none" stroke="#ff0000" stroke-width="3.3" stroke-linejoin="round" stroke-linecap="round"/>
</g>
<rect x="17.5" y="3.5" width="276" height="164" fill="none" stroke="#262626" stroke-width="0.8"/>
<path d="M17.5 167.5v-2.6M17.5 3.5v2.6M52 167.5v-2.6M52 3.5v2.6M86.5 167.5v-2.6M86.5 3.5v2.6M121 167.5v-2.6M121 3.5v2.6M155.5 167.5v-2.6M155.5 3.5v2.6M190 167.5v-2.6M190 3.5v2.6M224.5 167.5v-2.6M224.5 3.5v2.6M259 167.5v-2.6M259 3.5v2.6M293.5 167.5v-2.6M293.5 3.5v2.6M17.5 167.5h2.6M293.5 167.5h-2.6M17.5 144.07h2.6M293.5 144.07h-2.6M17.5 120.64h2.6M293.5 120.64h-2.6M17.5 97.21h2.6M293.5 97.21h-2.6M17.5 73.79h2.6M293.5 73.79h-2.6M17.5 50.36h2.6M293.5 50.36h-2.6M17.5 26.93h2.6M293.5 26.93h-2.6M17.5 3.5h2.6M293.5 3.5h-2.6" stroke="#262626" stroke-width="0.8" fill="none"/>
<g font-family="Liberation Sans, Arial, sans-serif" font-size="10" fill="#262626" style="text-rendering:geometricPrecision">
<text transform="translate(17.5 180.8) scale(0.86 1)" text-anchor="middle">0</text>
<text transform="translate(52 180.8) scale(0.86 1)" text-anchor="middle">50</text>
<text transform="translate(86.5 180.8) scale(0.86 1)" text-anchor="middle">100</text>
<text transform="translate(121 180.8) scale(0.86 1)" text-anchor="middle">150</text>
<text transform="translate(155.5 180.8) scale(0.86 1)" text-anchor="middle">200</text>
<text transform="translate(190 180.8) scale(0.86 1)" text-anchor="middle">250</text>
<text transform="translate(224.5 180.8) scale(0.86 1)" text-anchor="middle">300</text>
<text transform="translate(259 180.8) scale(0.86 1)" text-anchor="middle">350</text>
<text transform="translate(293.5 180.8) scale(0.86 1)" text-anchor="middle">400</text>
<text transform="translate(13.2 171) scale(0.86 1)" text-anchor="end">-15</text>
<text transform="translate(13.2 147.57) scale(0.86 1)" text-anchor="end">-10</text>
<text transform="translate(13.2 124.14) scale(0.86 1)" text-anchor="end">-5</text>
<text transform="translate(13.2 100.71) scale(0.86 1)" text-anchor="end">0</text>
<text transform="translate(13.2 77.29) scale(0.86 1)" text-anchor="end">5</text>
<text transform="translate(13.2 53.86) scale(0.86 1)" text-anchor="end">10</text>
<text transform="translate(13.2 30.43) scale(0.86 1)" text-anchor="end">15</text>
<text transform="translate(13.2 7) scale(0.86 1)" text-anchor="end">20</text>
</g>
<g font-family="Liberation Serif, serif" font-size="9.8" fill="#000" text-anchor="middle">
<text x="93.85" y="191" textLength="8.5" lengthAdjust="spacingAndGlyphs">#</text>
<text x="105.55" y="191" textLength="8.5" lengthAdjust="spacingAndGlyphs">of</text>
<text x="122.05" y="191" textLength="18.3" lengthAdjust="spacingAndGlyphs">BPs</text>
<text x="138.15" y="191" textLength="7.9" lengthAdjust="spacingAndGlyphs">=</text>
<text x="147.95" y="191" textLength="4.3" lengthAdjust="spacingAndGlyphs">6</text>
<text x="151.9" y="191" textLength="2.4" lengthAdjust="spacingAndGlyphs">,</text>
<text x="167.65" y="191" textLength="21.9" lengthAdjust="spacingAndGlyphs">MSE</text>
<text x="185.55" y="191" textLength="7.9" lengthAdjust="spacingAndGlyphs">=</text>
<text x="206.85" y="191" textLength="27.9" lengthAdjust="spacingAndGlyphs">3.8470</text>
<text x="155.3" y="203.4" textLength="12.7" lengthAdjust="spacingAndGlyphs">(b)</text>
</g>
</g>
<g transform="translate(0 228)">
<use href="#d"/>
<line x1="79.5" y1="167.5" x2="79.5" y2="3.5" stroke="#ff0000" stroke-opacity="0.5" stroke-width="1" stroke-dasharray="4.8 2.5"/>
<line x1="107.5" y1="167.5" x2="107.5" y2="3.5" stroke="#ff0000" stroke-opacity="0.5" stroke-width="1" stroke-dasharray="4.8 2.5"/>
<line x1="194.5" y1="167.5" x2="194.5" y2="3.5" stroke="#ff0000" stroke-opacity="0.5" stroke-width="1" stroke-dasharray="4.8 2.5"/>
<line x1="224.5" y1="167.5" x2="224.5" y2="3.5" stroke="#ff0000" stroke-opacity="0.5" stroke-width="1" stroke-dasharray="4.8 2.5"/>
<line x1="258.5" y1="167.5" x2="258.5" y2="3.5" stroke="#ff0000" stroke-opacity="0.5" stroke-width="1" stroke-dasharray="4.8 2.5"/>
<g clip-path="url(#cp)">
<path d="M17.5 82.7 C18.25 82.62 20.58 82.37 22 82.2 C23.42 82.03 24.67 81.95 26 81.7 C27.33 81.45 28.33 81.18 30 80.7 C31.67 80.22 34.33 79.33 36 78.8 C37.67 78.27 38.67 78.02 40 77.5 C41.33 76.98 42.33 76.55 44 75.7 C45.67 74.85 48.17 73.52 50 72.4 C51.83 71.28 53.33 70.23 55 69 C56.67 67.77 58.5 66.32 60 65 C61.5 63.68 62.67 62.45 64 61.1 C65.33 59.75 66.67 58.32 68 56.9 C69.33 55.48 70.67 54 72 52.6 C73.33 51.2 74.77 49.7 76 48.5 C77.23 47.3 78.23 46.82 79.4 45.4 C80.57 43.98 81.9 41.52 83 40 C84.1 38.48 85.15 37.05 86 36.3 C86.85 35.55 87.35 35.38 88.1 35.5 C88.85 35.62 89.63 36 90.5 37 C91.37 38 92.27 39.42 93.3 41.5 C94.33 43.58 95.58 45.67 96.7 49.5 C97.82 53.33 98.95 59.42 100 64.5 C101.05 69.58 102.15 75.08 103 80 C103.85 84.92 104.55 90.08 105.1 94 C105.65 97.92 106.02 101.37 106.3 103.5 C106.58 105.63 106.72 106.25 106.8 106.8 L106.8 106.8 C107.17 107.17 107.97 108.28 109 109 C110.03 109.72 111.32 110.38 113 111.1 C114.68 111.82 117.08 112.82 119.1 113.3 C121.12 113.78 123.1 113.88 125.1 114 C127.1 114.12 129.1 114.1 131.1 114 C133.1 113.9 134.75 113.67 137.1 113.4 C139.45 113.13 143.38 112.68 145.2 112.4 C147.02 112.12 146.62 112.05 148 111.7 C149.38 111.35 151.65 110.93 153.5 110.3 C155.35 109.67 157.25 108.87 159.1 107.9 C160.95 106.93 162.58 105.82 164.6 104.5 C166.62 103.18 169.3 101.27 171.2 100 C173.1 98.73 174.53 97.9 176 96.9 C177.47 95.9 178.82 94.85 180 94 C181.18 93.15 182.1 92.58 183.1 91.8 C184.1 91.02 185 90.2 186 89.3 C187 88.4 188.1 87.35 189.1 86.4 C190.1 85.45 191.12 84.62 192 83.6 C192.88 82.58 193.65 81.47 194.4 80.3 C195.15 79.13 195.87 77.77 196.5 76.6 C197.13 75.43 197.62 74.33 198.2 73.3 C198.78 72.27 199.42 71.23 200 70.4 C200.58 69.57 201.12 68.85 201.7 68.3 C202.28 67.75 202.78 67.37 203.5 67.1 C204.22 66.83 205.25 66.4 206 66.7 C206.75 67 207.2 67.43 208 68.9 C208.8 70.37 209.97 73.35 210.8 75.5 C211.63 77.65 212.35 79.68 213 81.8 C213.65 83.92 214.12 85.58 214.7 88.2 C215.28 90.82 215.87 94.2 216.5 97.5 C217.13 100.8 217.85 104.42 218.5 108 C219.15 111.58 219.85 115.33 220.4 119 C220.95 122.67 221.37 126.75 221.8 130 C222.23 133.25 222.52 135.95 223 138.5 C223.48 141.05 224.07 143.95 224.7 145.3 C225.33 146.65 226 146.45 226.8 146.6 C227.6 146.75 228.33 146.87 229.5 146.2 C230.67 145.53 232.47 143.87 233.8 142.6 C235.13 141.33 236.33 139.93 237.5 138.6 C238.67 137.27 239.8 136 240.8 134.6 C241.8 133.2 242.58 131.87 243.5 130.2 C244.42 128.53 245.15 127.55 246.3 124.6 C247.45 121.65 249.18 116.2 250.4 112.5 C251.62 108.8 252.63 105.82 253.6 102.4 C254.57 98.98 255.4 95.87 256.2 92 C257 88.13 258.03 81.33 258.4 79.2 L258.4 79.2 C258.87 80 260.15 81.82 261.2 84 C262.25 86.18 263.43 89.5 264.7 92.3 C265.97 95.1 267.42 98.7 268.8 100.8 C270.18 102.9 271.62 104 273 104.9 C274.38 105.8 275.93 106.15 277.1 106.2 C278.27 106.25 278.88 105.85 280 105.2 C281.12 104.55 282.8 103.32 283.8 102.3 C284.8 101.28 285.23 100.32 286 99.1 C286.77 97.88 287.52 96.8 288.4 95 C289.28 93.2 290.4 90.87 291.3 88.3 C292.2 85.73 293.38 81.05 293.8 79.6" fill="none" stroke="#000" stroke-width="3.2" stroke-linejoin="round" stroke-linecap="round"/>
<path d="M17.5 84.3 C18.75 83.92 22.5 82.85 25 82 C27.5 81.15 30 80.22 32.5 79.2 C35 78.18 37.5 77.1 40 75.9 C42.5 74.7 45 73.4 47.5 72 C50 70.6 52.5 69.15 55 67.5 C57.5 65.85 60 64 62.5 62.1 C65 60.2 67.92 57.8 70 56.1 C72.08 54.4 73.4 53.22 75 51.9 C76.6 50.58 78.83 48.82 79.6 48.2 L79.6 48.2 C80.15 46.93 81.88 42.47 82.9 40.6 C83.92 38.73 84.83 37.78 85.7 37 C86.57 36.22 87.3 35.85 88.1 35.9 C88.9 35.95 89.63 36.33 90.5 37.3 C91.37 38.27 92.27 39.58 93.3 41.7 C94.33 43.82 95.58 46.12 96.7 50 C97.82 53.88 98.95 60 100 65 C101.05 70 102.15 75.25 103 80 C103.85 84.75 104.33 89.58 105.1 93.5 C105.87 97.42 107.18 101.83 107.6 103.5 L107.6 104.5 C107.75 104.95 107.6 106.35 108.5 107.2 C109.4 108.05 111.23 108.85 113 109.6 C114.77 110.35 117.08 111.15 119.1 111.7 C121.12 112.25 123.1 112.65 125.1 112.9 C127.1 113.15 129.1 113.2 131.1 113.2 C133.1 113.2 134.95 113.05 137.1 112.9 C139.25 112.75 142.18 112.52 144 112.3 C145.82 112.08 146.42 112.03 148 111.6 C149.58 111.17 151.65 110.38 153.5 109.7 C155.35 109.02 157.25 108.33 159.1 107.5 C160.95 106.67 162.77 105.72 164.6 104.7 C166.43 103.68 168.25 102.52 170.1 101.4 C171.95 100.28 174.05 99.03 175.7 98 C177.35 96.97 178.62 96.12 180 95.2 C181.38 94.28 182.5 93.65 184 92.5 C185.5 91.35 187.35 90.03 189 88.3 C190.65 86.57 193.08 83.13 193.9 82.1 L193.9 82.1 C194.32 81.12 195.42 77.88 196.4 76.2 C197.38 74.52 198.68 72.92 199.8 72 C200.92 71.08 202 70.7 203.1 70.7 C204.2 70.7 205.3 71.1 206.4 72 C207.5 72.9 208.73 74.45 209.7 76.1 C210.67 77.75 211.48 79.97 212.2 81.9 C212.92 83.83 213.32 85.25 214 87.7 C214.68 90.15 215.3 92.75 216.3 96.6 C217.3 100.45 219.03 106.13 220 110.8 C220.97 115.47 221.52 120.45 222.1 124.6 C222.68 128.75 223.12 133.22 223.5 135.7 C223.88 138.18 224.25 138.87 224.4 139.5 L224.4 139.5 C224.67 140.02 225.35 141.92 226 142.6 C226.65 143.28 227 143.8 228.3 143.6 C229.6 143.4 231.72 142.95 233.8 141.4 C235.88 139.85 238.72 137.1 240.8 134.3 C242.88 131.5 244.43 128.9 246.3 124.6 C248.17 120.3 250.63 112.68 252 108.5 C253.37 104.32 253.7 102.67 254.5 99.5 C255.3 96.33 256.15 92.37 256.8 89.5 C257.45 86.63 258.13 83.5 258.4 82.3 L258.4 82.3 C258.78 83.22 259.62 85.45 260.7 87.8 C261.78 90.15 263.52 93.9 264.9 96.4 C266.28 98.9 267.77 101.2 269 102.8 C270.23 104.4 271.3 105.33 272.3 106 C273.3 106.67 274.15 106.73 275 106.8 C275.85 106.87 276.57 106.75 277.4 106.4 C278.23 106.05 279.12 105.53 280 104.7 C280.88 103.87 281.87 102.6 282.7 101.4 C283.53 100.2 284.23 99.02 285 97.5 C285.77 95.98 286.6 94.08 287.3 92.3 C288 90.52 288.63 88.52 289.2 86.8 C289.77 85.08 290.23 83.55 290.7 82 C291.17 80.45 291.52 79.17 292 77.5 C292.48 75.83 293.33 72.92 293.6 72" fill="none" stroke="#ff0000" stroke-width="3.3" stroke-linejoin="round" stroke-linecap="round"/>
</g>
<rect x="17.5" y="3.5" width="276" height="164" fill="none" stroke="#262626" stroke-width="0.8"/>
<path d="M17.5 167.5v-2.6M17.5 3.5v2.6M52 167.5v-2.6M52 3.5v2.6M86.5 167.5v-2.6M86.5 3.5v2.6M121 167.5v-2.6M121 3.5v2.6M155.5 167.5v-2.6M155.5 3.5v2.6M190 167.5v-2.6M190 3.5v2.6M224.5 167.5v-2.6M224.5 3.5v2.6M259 167.5v-2.6M259 3.5v2.6M293.5 167.5v-2.6M293.5 3.5v2.6M17.5 167.5h2.6M293.5 167.5h-2.6M17.5 144.07h2.6M293.5 144.07h-2.6M17.5 120.64h2.6M293.5 120.64h-2.6M17.5 97.21h2.6M293.5 97.21h-2.6M17.5 73.79h2.6M293.5 73.79h-2.6M17.5 50.36h2.6M293.5 50.36h-2.6M17.5 26.93h2.6M293.5 26.93h-2.6M17.5 3.5h2.6M293.5 3.5h-2.6" stroke="#262626" stroke-width="0.8" fill="none"/>
<g font-family="Liberation Sans, Arial, sans-serif" font-size="10" fill="#262626" style="text-rendering:geometricPrecision">
<text transform="translate(17.5 180.8) scale(0.86 1)" text-anchor="middle">0</text>
<text transform="translate(52 180.8) scale(0.86 1)" text-anchor="middle">50</text>
<text transform="translate(86.5 180.8) scale(0.86 1)" text-anchor="middle">100</text>
<text transform="translate(121 180.8) scale(0.86 1)" text-anchor="middle">150</text>
<text transform="translate(155.5 180.8) scale(0.86 1)" text-anchor="middle">200</text>
<text transform="translate(190 180.8) scale(0.86 1)" text-anchor="middle">250</text>
<text transform="translate(224.5 180.8) scale(0.86 1)" text-anchor="middle">300</text>
<text transform="translate(259 180.8) scale(0.86 1)" text-anchor="middle">350</text>
<text transform="translate(293.5 180.8) scale(0.86 1)" text-anchor="middle">400</text>
<text transform="translate(13.2 171) scale(0.86 1)" text-anchor="end">-15</text>
<text transform="translate(13.2 147.57) scale(0.86 1)" text-anchor="end">-10</text>
<text transform="translate(13.2 124.14) scale(0.86 1)" text-anchor="end">-5</text>
<text transform="translate(13.2 100.71) scale(0.86 1)" text-anchor="end">0</text>
<text transform="translate(13.2 77.29) scale(0.86 1)" text-anchor="end">5</text>
<text transform="translate(13.2 53.86) scale(0.86 1)" text-anchor="end">10</text>
<text transform="translate(13.2 30.43) scale(0.86 1)" text-anchor="end">15</text>
<text transform="translate(13.2 7) scale(0.86 1)" text-anchor="end">20</text>
</g>
<g font-family="Liberation Serif, serif" font-size="9.8" fill="#000" text-anchor="middle">
<text x="93.85" y="191" textLength="8.5" lengthAdjust="spacingAndGlyphs">#</text>
<text x="105.55" y="191" textLength="8.5" lengthAdjust="spacingAndGlyphs">of</text>
<text x="122.05" y="191" textLength="18.3" lengthAdjust="spacingAndGlyphs">BPs</text>
<text x="138.15" y="191" textLength="7.9" lengthAdjust="spacingAndGlyphs">=</text>
<text x="147.95" y="191" textLength="4.3" lengthAdjust="spacingAndGlyphs">5</text>
<text x="151.9" y="191" textLength="2.4" lengthAdjust="spacingAndGlyphs">,</text>
<text x="167.65" y="191" textLength="21.9" lengthAdjust="spacingAndGlyphs">MSE</text>
<text x="185.55" y="191" textLength="7.9" lengthAdjust="spacingAndGlyphs">=</text>
<text x="206.85" y="191" textLength="27.9" lengthAdjust="spacingAndGlyphs">3.8943</text>
<text x="155.3" y="203.4" textLength="11.7" lengthAdjust="spacingAndGlyphs">(c)</text>
</g>
</g>
<g transform="translate(363 228)">
<use href="#d"/>
<line x1="79.5" y1="167.5" x2="79.5" y2="3.5" stroke="#ff0000" stroke-opacity="0.5" stroke-width="1" stroke-dasharray="4.8 2.5"/>
<line x1="107.5" y1="167.5" x2="107.5" y2="3.5" stroke="#ff0000" stroke-opacity="0.5" stroke-width="1" stroke-dasharray="4.8 2.5"/>
<line x1="194.5" y1="167.5" x2="194.5" y2="3.5" stroke="#ff0000" stroke-opacity="0.5" stroke-width="1" stroke-dasharray="4.8 2.5"/>
<line x1="226.5" y1="167.5" x2="226.5" y2="3.5" stroke="#ff0000" stroke-opacity="0.5" stroke-width="1" stroke-dasharray="4.8 2.5"/>
<g clip-path="url(#cp)">
<path d="M17.5 82.7 C18.25 82.62 20.58 82.37 22 82.2 C23.42 82.03 24.67 81.95 26 81.7 C27.33 81.45 28.33 81.18 30 80.7 C31.67 80.22 34.33 79.33 36 78.8 C37.67 78.27 38.67 78.02 40 77.5 C41.33 76.98 42.33 76.55 44 75.7 C45.67 74.85 48.17 73.52 50 72.4 C51.83 71.28 53.33 70.23 55 69 C56.67 67.77 58.5 66.32 60 65 C61.5 63.68 62.67 62.45 64 61.1 C65.33 59.75 66.67 58.32 68 56.9 C69.33 55.48 70.67 54 72 52.6 C73.33 51.2 74.77 49.7 76 48.5 C77.23 47.3 78.23 46.82 79.4 45.4 C80.57 43.98 81.9 41.52 83 40 C84.1 38.48 85.15 37.05 86 36.3 C86.85 35.55 87.35 35.38 88.1 35.5 C88.85 35.62 89.63 36 90.5 37 C91.37 38 92.27 39.42 93.3 41.5 C94.33 43.58 95.58 45.67 96.7 49.5 C97.82 53.33 98.95 59.42 100 64.5 C101.05 69.58 102.15 75.08 103 80 C103.85 84.92 104.55 90.08 105.1 94 C105.65 97.92 106.02 101.37 106.3 103.5 C106.58 105.63 106.72 106.25 106.8 106.8 L106.8 106.8 C107.17 107.17 107.97 108.28 109 109 C110.03 109.72 111.32 110.38 113 111.1 C114.68 111.82 117.08 112.82 119.1 113.3 C121.12 113.78 123.1 113.88 125.1 114 C127.1 114.12 129.1 114.1 131.1 114 C133.1 113.9 134.75 113.67 137.1 113.4 C139.45 113.13 143.38 112.68 145.2 112.4 C147.02 112.12 146.62 112.05 148 111.7 C149.38 111.35 151.65 110.93 153.5 110.3 C155.35 109.67 157.25 108.87 159.1 107.9 C160.95 106.93 162.58 105.82 164.6 104.5 C166.62 103.18 169.3 101.27 171.2 100 C173.1 98.73 174.53 97.9 176 96.9 C177.47 95.9 178.82 94.85 180 94 C181.18 93.15 182.1 92.58 183.1 91.8 C184.1 91.02 185 90.2 186 89.3 C187 88.4 188.1 87.35 189.1 86.4 C190.1 85.45 191.12 84.62 192 83.6 C192.88 82.58 193.65 81.47 194.4 80.3 C195.15 79.13 195.87 77.77 196.5 76.6 C197.13 75.43 197.62 74.33 198.2 73.3 C198.78 72.27 199.42 71.23 200 70.4 C200.58 69.57 201.12 68.85 201.7 68.3 C202.28 67.75 202.78 67.37 203.5 67.1 C204.22 66.83 205.25 66.4 206 66.7 C206.75 67 207.2 67.43 208 68.9 C208.8 70.37 209.97 73.35 210.8 75.5 C211.63 77.65 212.35 79.68 213 81.8 C213.65 83.92 214.12 85.58 214.7 88.2 C215.28 90.82 215.87 94.2 216.5 97.5 C217.13 100.8 217.85 104.42 218.5 108 C219.15 111.58 219.85 115.33 220.4 119 C220.95 122.67 221.37 126.75 221.8 130 C222.23 133.25 222.52 135.95 223 138.5 C223.48 141.05 224.07 143.95 224.7 145.3 C225.33 146.65 226 146.45 226.8 146.6 C227.6 146.75 228.33 146.87 229.5 146.2 C230.67 145.53 232.47 143.87 233.8 142.6 C235.13 141.33 236.33 139.93 237.5 138.6 C238.67 137.27 239.8 136 240.8 134.6 C241.8 133.2 242.58 131.87 243.5 130.2 C244.42 128.53 245.15 127.55 246.3 124.6 C247.45 121.65 249.18 116.2 250.4 112.5 C251.62 108.8 252.63 105.82 253.6 102.4 C254.57 98.98 255.4 95.87 256.2 92 C257 88.13 258.03 81.33 258.4 79.2 L258.4 79.2 C258.87 80 260.15 81.82 261.2 84 C262.25 86.18 263.43 89.5 264.7 92.3 C265.97 95.1 267.42 98.7 268.8 100.8 C270.18 102.9 271.62 104 273 104.9 C274.38 105.8 275.93 106.15 277.1 106.2 C278.27 106.25 278.88 105.85 280 105.2 C281.12 104.55 282.8 103.32 283.8 102.3 C284.8 101.28 285.23 100.32 286 99.1 C286.77 97.88 287.52 96.8 288.4 95 C289.28 93.2 290.4 90.87 291.3 88.3 C292.2 85.73 293.38 81.05 293.8 79.6" fill="none" stroke="#000" stroke-width="3.2" stroke-linejoin="round" stroke-linecap="round"/>
<path d="M17.5 84.3 C18.75 83.92 22.5 82.85 25 82 C27.5 81.15 30 80.22 32.5 79.2 C35 78.18 37.5 77.1 40 75.9 C42.5 74.7 45 73.4 47.5 72 C50 70.6 52.5 69.15 55 67.5 C57.5 65.85 60 64 62.5 62.1 C65 60.2 67.92 57.8 70 56.1 C72.08 54.4 73.4 53.22 75 51.9 C76.6 50.58 78.83 48.82 79.6 48.2 L79.6 48.2 C80.15 46.93 81.88 42.47 82.9 40.6 C83.92 38.73 84.83 37.78 85.7 37 C86.57 36.22 87.3 35.85 88.1 35.9 C88.9 35.95 89.63 36.33 90.5 37.3 C91.37 38.27 92.27 39.58 93.3 41.7 C94.33 43.82 95.58 46.12 96.7 50 C97.82 53.88 98.95 60 100 65 C101.05 70 102.15 75.25 103 80 C103.85 84.75 104.33 89.58 105.1 93.5 C105.87 97.42 107.18 101.83 107.6 103.5 L107.6 104.5 C107.75 104.95 107.6 106.35 108.5 107.2 C109.4 108.05 111.23 108.85 113 109.6 C114.77 110.35 117.08 111.15 119.1 111.7 C121.12 112.25 123.1 112.65 125.1 112.9 C127.1 113.15 129.1 113.2 131.1 113.2 C133.1 113.2 134.95 113.05 137.1 112.9 C139.25 112.75 142.18 112.52 144 112.3 C145.82 112.08 146.42 112.03 148 111.6 C149.58 111.17 151.65 110.38 153.5 109.7 C155.35 109.02 157.25 108.33 159.1 107.5 C160.95 106.67 162.77 105.72 164.6 104.7 C166.43 103.68 168.25 102.52 170.1 101.4 C171.95 100.28 174.05 99.03 175.7 98 C177.35 96.97 178.62 96.12 180 95.2 C181.38 94.28 182.5 93.65 184 92.5 C185.5 91.35 187.35 90.03 189 88.3 C190.65 86.57 193.08 83.13 193.9 82.1 L193.9 82.1 C194.32 81.1 195.42 77.72 196.4 76.1 C197.38 74.48 198.68 73.2 199.8 72.4 C200.92 71.6 202 71.3 203.1 71.3 C204.2 71.3 205.3 71.4 206.4 72.4 C207.5 73.4 208.73 75.43 209.7 77.3 C210.67 79.17 211.48 81.58 212.2 83.6 C212.92 85.62 213.32 86.8 214 89.4 C214.68 92 215.2 93.92 216.3 99.2 C217.4 104.48 219.48 115.13 220.6 121.1 C221.72 127.07 222.02 130.05 223 135 C223.98 139.95 225.92 148.17 226.5 150.8 L226.5 150.8 C227.42 149.03 229.85 143.75 232 140.2 C234.15 136.65 236.95 132.93 239.4 129.5 C241.85 126.07 244.8 122.27 246.7 119.6 C248.6 116.93 249.57 115.23 250.8 113.5 C252.03 111.77 252.95 110.62 254.1 109.2 C255.25 107.78 256.47 106.27 257.7 105 C258.93 103.73 260.33 102.55 261.5 101.6 C262.67 100.65 263.02 100.25 264.7 99.3 C266.38 98.35 269.3 96.82 271.6 95.9 C273.9 94.98 276.2 94.38 278.5 93.8 C280.8 93.22 282.98 92.7 285.4 92.4 C287.82 92.1 291.73 92.07 293 92" fill="none" stroke="#ff0000" stroke-width="3.3" stroke-linejoin="round" stroke-linecap="round"/>
</g>
<rect x="17.5" y="3.5" width="276" height="164" fill="none" stroke="#262626" stroke-width="0.8"/>
<path d="M17.5 167.5v-2.6M17.5 3.5v2.6M52 167.5v-2.6M52 3.5v2.6M86.5 167.5v-2.6M86.5 3.5v2.6M121 167.5v-2.6M121 3.5v2.6M155.5 167.5v-2.6M155.5 3.5v2.6M190 167.5v-2.6M190 3.5v2.6M224.5 167.5v-2.6M224.5 3.5v2.6M259 167.5v-2.6M259 3.5v2.6M293.5 167.5v-2.6M293.5 3.5v2.6M17.5 167.5h2.6M293.5 167.5h-2.6M17.5 144.07h2.6M293.5 144.07h-2.6M17.5 120.64h2.6M293.5 120.64h-2.6M17.5 97.21h2.6M293.5 97.21h-2.6M17.5 73.79h2.6M293.5 73.79h-2.6M17.5 50.36h2.6M293.5 50.36h-2.6M17.5 26.93h2.6M293.5 26.93h-2.6M17.5 3.5h2.6M293.5 3.5h-2.6" stroke="#262626" stroke-width="0.8" fill="none"/>
<g font-family="Liberation Sans, Arial, sans-serif" font-size="10" fill="#262626" style="text-rendering:geometricPrecision">
<text transform="translate(17.5 180.8) scale(0.86 1)" text-anchor="middle">0</text>
<text transform="translate(52 180.8) scale(0.86 1)" text-anchor="middle">50</text>
<text transform="translate(86.5 180.8) scale(0.86 1)" text-anchor="middle">100</text>
<text transform="translate(121 180.8) scale(0.86 1)" text-anchor="middle">150</text>
<text transform="translate(155.5 180.8) scale(0.86 1)" text-anchor="middle">200</text>
<text transform="translate(190 180.8) scale(0.86 1)" text-anchor="middle">250</text>
<text transform="translate(224.5 180.8) scale(0.86 1)" text-anchor="middle">300</text>
<text transform="translate(259 180.8) scale(0.86 1)" text-anchor="middle">350</text>
<text transform="translate(293.5 180.8) scale(0.86 1)" text-anchor="middle">400</text>
<text transform="translate(13.2 171) scale(0.86 1)" text-anchor="end">-15</text>
<text transform="translate(13.2 147.57) scale(0.86 1)" text-anchor="end">-10</text>
<text transform="translate(13.2 124.14) scale(0.86 1)" text-anchor="end">-5</text>
<text transform="translate(13.2 100.71) scale(0.86 1)" text-anchor="end">0</text>
<text transform="translate(13.2 77.29) scale(0.86 1)" text-anchor="end">5</text>
<text transform="translate(13.2 53.86) scale(0.86 1)" text-anchor="end">10</text>
<text transform="translate(13.2 30.43) scale(0.86 1)" text-anchor="end">15</text>
<text transform="translate(13.2 7) scale(0.86 1)" text-anchor="end">20</text>
</g>
<g font-family="Liberation Serif, serif" font-size="9.8" fill="#000" text-anchor="middle">
<text x="93.85" y="191" textLength="8.5" lengthAdjust="spacingAndGlyphs">#</text>
<text x="105.55" y="191" textLength="8.5" lengthAdjust="spacingAndGlyphs">of</text>
<text x="122.05" y="191" textLength="18.3" lengthAdjust="spacingAndGlyphs">BPs</text>
<text x="138.15" y="191" textLength="7.9" lengthAdjust="spacingAndGlyphs">=</text>
<text x="147.95" y="191" textLength="4.3" lengthAdjust="spacingAndGlyphs">4</text>
<text x="151.9" y="191" textLength="2.4" lengthAdjust="spacingAndGlyphs">,</text>
<text x="167.65" y="191" textLength="21.9" lengthAdjust="spacingAndGlyphs">MSE</text>
<text x="185.55" y="191" textLength="7.9" lengthAdjust="spacingAndGlyphs">=</text>
<text x="206.85" y="191" textLength="27.9" lengthAdjust="spacingAndGlyphs">4.8737</text>
<text x="155.3" y="203.4" textLength="12.7" lengthAdjust="spacingAndGlyphs">(d)</text>
</g>
</g>
</svg></body></html>
